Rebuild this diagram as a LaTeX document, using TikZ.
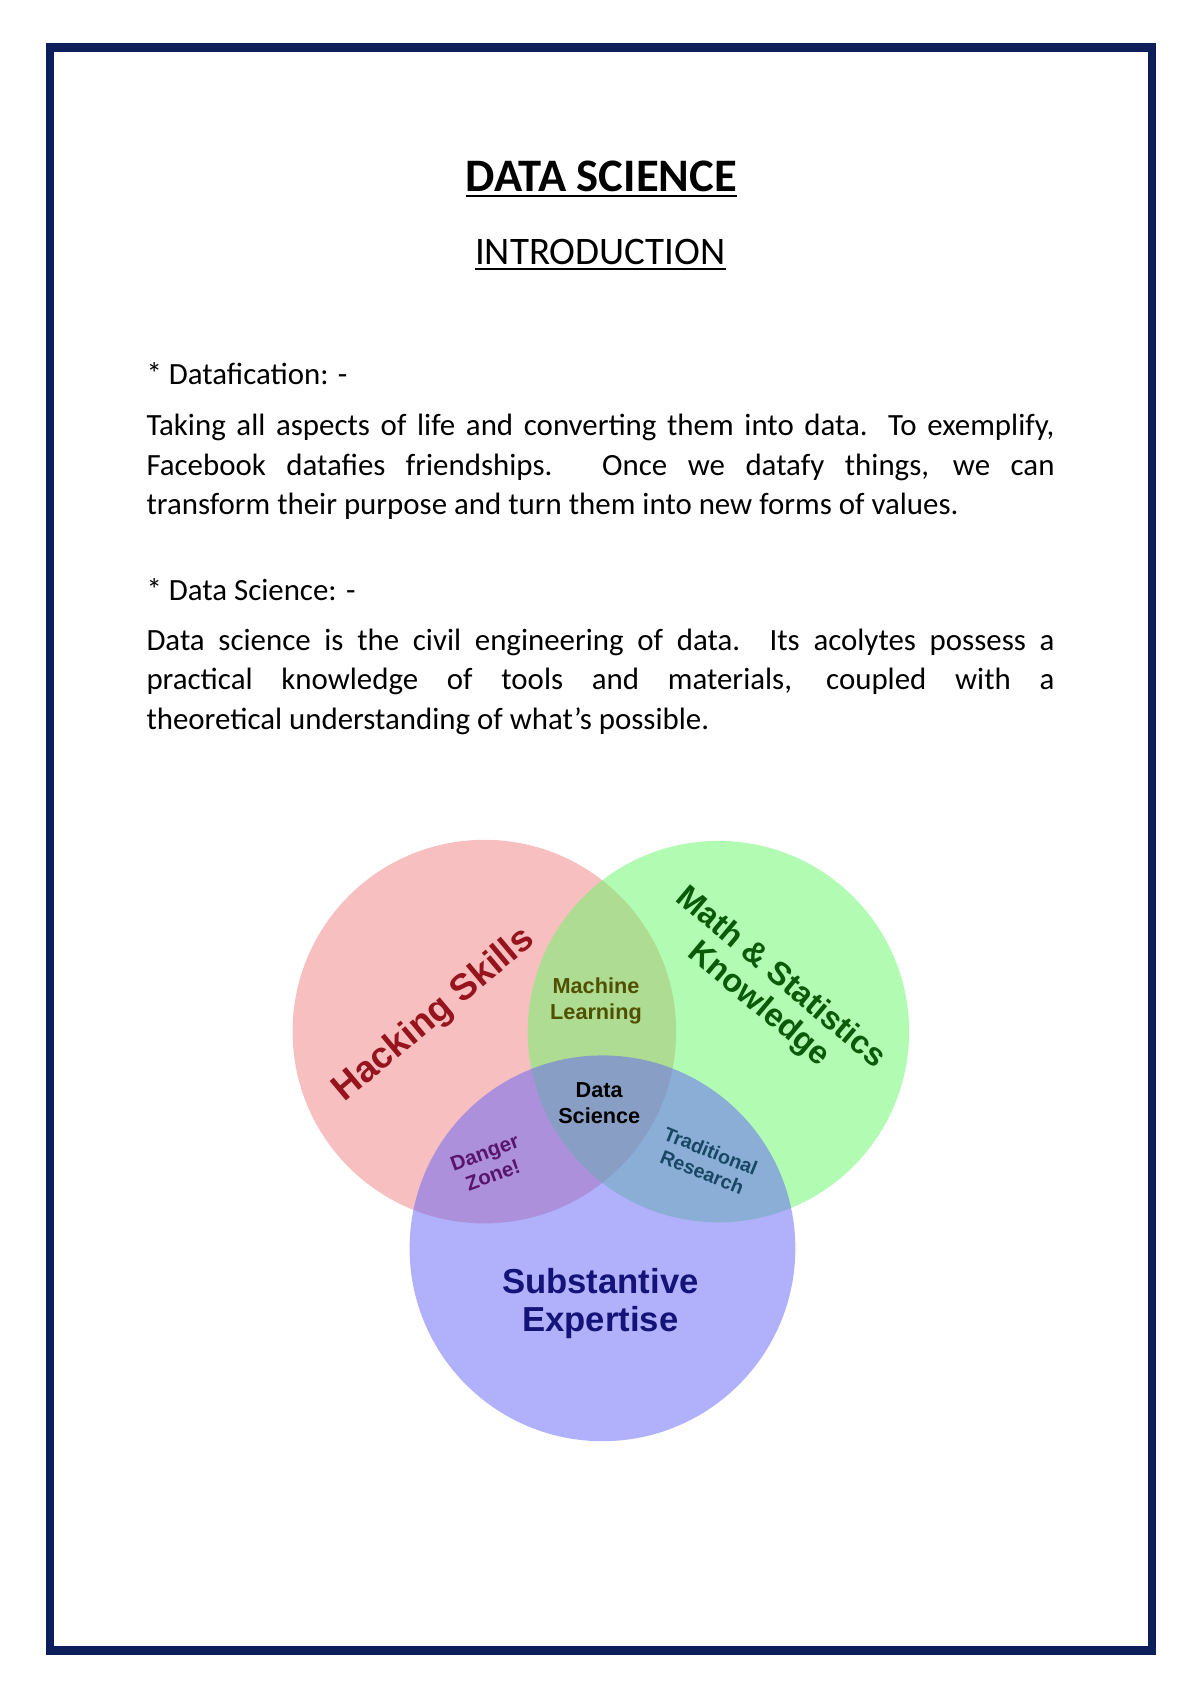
\documentclass[tikz,border=0pt]{standalone}
\usepackage{fontspec}
\setmainfont{Carlito}
\newfontfamily\arialf{Liberation Sans}
\begin{document}
\begin{tikzpicture}[x=1pt,y=-1pt,
  body/.style={anchor=north west,inner sep=0,text width=838pt,align=justify,font=\fontsize{28.5}{36.5}\selectfont},
  head/.style={anchor=west,inner sep=0,font=\fontsize{28.5}{36}\selectfont},
  circ/.style={fill opacity=0.5,draw=none},
  uline/.style={line width=2pt},
  lab/.style={font=\arialf\bfseries,align=center,inner sep=0}]
\useasboundingbox (0,0) rectangle (1108,1567);
\draw[line width=8pt,color={rgb,255:red,12;green,31;blue,92}] (46,44) rectangle (1063,1523);
\node[inner sep=0,font=\fontsize{43}{43}\selectfont\bfseries] (t1) at (555,163) {DATA SCIENCE};
\draw[uline] ([yshift=-4pt]t1.base west) -- ([yshift=-4pt]t1.base east);
\node[inner sep=0,font=\fontsize{36}{36}\selectfont] (t2) at (554,233) {INTRODUCTION};
\draw[uline] ([yshift=-4pt]t2.base west) -- ([yshift=-4pt]t2.base east);
\node[head] (h1) at (135,345) {* Datafication: -};
\node[body] (p1) at (135,382) {Taking all aspects of life and converting them into data. To exemplify,\linebreak Facebook datafies friendships. Once we datafy things, we can\linebreak transform their purpose and turn them into new forms of values.};
\node[head] (h2) at (135,544) {* Data Science: -};
\node[body] (p2) at (135,580) {Data science is the civil engineering of data. Its acolytes possess a\linebreak practical knowledge of tools and materials, coupled with a\linebreak theoretical understanding of what’s possible.};
\fill[circ,color={rgb,255:red,239;green,128;blue,128}] (447,952) circle (177);
\fill[circ,color={rgb,255:red,102;green,248;blue,102}] (663,952) circle (176);
\fill[circ,color={rgb,255:red,98;green,98;blue,248}] (556,1152) circle (178);
\node[lab,rotate=40,font=\arialf\bfseries\fontsize{34}{34}\selectfont,text={rgb,255:red,150;green,20;blue,30}] (hs) at (401,937) {Hacking Skills};
\node[lab,rotate=-40,font=\arialf\bfseries\fontsize{30}{32}\selectfont,text={rgb,255:red,10;green,90;blue,10}] (ms) at (710,915) {Math \& Statistics\\Knowledge};
\node[lab,font=\arialf\bfseries\fontsize{20}{24}\selectfont,text={rgb,255:red,80;green,80;blue,0}] (ml) at (550,924) {Machine\\Learning};
\node[lab,font=\arialf\bfseries\fontsize{20}{24}\selectfont] (ds) at (553,1018) {Data\\Science};
\node[lab,rotate=20,font=\arialf\bfseries\fontsize{19}{22}\selectfont,text={rgb,255:red,90;green,20;blue,110}] (dz) at (451,1074) {Danger\\Zone!};
\node[lab,rotate=-22,font=\arialf\bfseries\fontsize{18}{21}\selectfont,text={rgb,255:red,25;green,70;blue,100}] (tr) at (652,1072) {Traditional\\Research};
\node[lab,font=\arialf\bfseries\fontsize{32}{35}\selectfont,text={rgb,255:red,20;green,20;blue,120}] (se) at (554,1203) {Substantive\\Expertise};
\end{tikzpicture}
\end{document}
